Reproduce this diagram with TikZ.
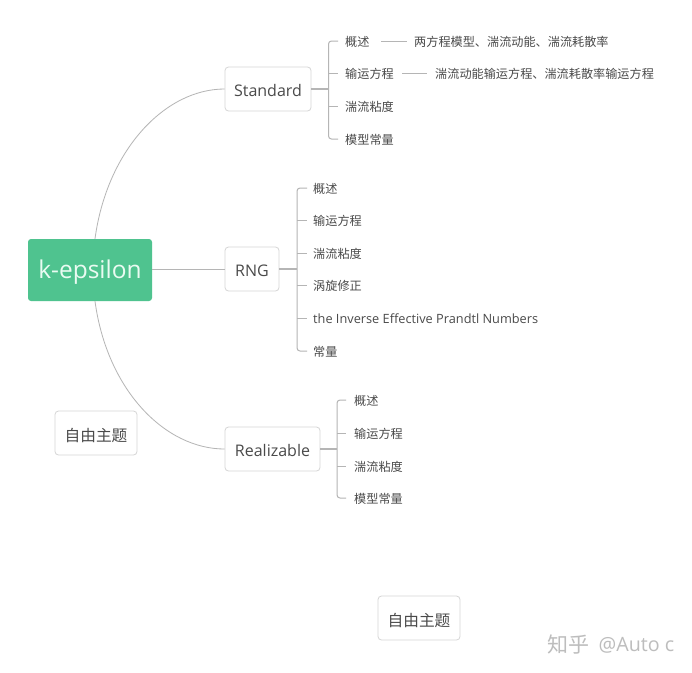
\documentclass[tikz,border=0pt]{standalone}
\usepackage{fontspec}
\setmainfont{Open Sans}
\newfontfamily\cjk{Noto Sans CJK SC}[Scale=1]
\definecolor{rootgreen}{HTML}{4FC38F}
\definecolor{roottext}{HTML}{EAFBF2}
\definecolor{inktext}{HTML}{4A4A4A}
\definecolor{linegray}{HTML}{B5B5B5}
\definecolor{boxgray}{HTML}{D6D6D6}
\definecolor{markgray}{HTML}{BDBDBD}
\tikzset{
  rootbox/.style={fill=rootgreen,rounded corners=3pt,text=roottext,font=\fontsize{24.5}{27}\selectfont,minimum width=124pt,minimum height=62pt,inner sep=0pt,text height=18pt,text depth=2pt},
  topicbox/.style={draw=boxgray,line width=.8pt,fill=white,rounded corners=3.5pt,text=inktext,font=\fontsize{16}{19}\selectfont,minimum height=44pt,inner sep=0pt,text height=14.2pt,text depth=0pt},
  freebox/.style={topicbox,font=\cjk\fontsize{15.7}{19}\selectfont,minimum width=82pt,text height=16pt,text depth=0pt},
  leaf/.style={anchor=west,text=inktext,inner ysep=1pt,inner xsep=0pt,font=\cjk\fontsize{12.15}{14}\selectfont,text height=10.6pt,text depth=.6pt},
  leaftext/.style={leaf,font=\fontsize{12.75}{14}\selectfont},
  thin link/.style={draw=linegray,line width=.8pt},
  stem/.style={draw=linegray,line width=1.2pt},
  bracket/.style={draw=linegray,line width=1pt,rounded corners=3pt},
  stub/.style={draw=linegray,line width=.8pt}
}
\begin{document}
\begin{tikzpicture}[x=1pt,y=-1pt]
\useasboundingbox (0,0) rectangle (692,672);
\fill[white] (0,0) rectangle (692,672);

\node[rootbox] (root) at (90,270) {k-epsilon};
\node[topicbox,minimum width=86pt] (std) at (268,89) {Standard};
\node[topicbox,minimum width=54pt] (rng) at (252,269) {RNG};
\node[topicbox,minimum width=95pt] (rea) at (272.5,449) {Realizable};
\node[freebox] (freea) at (96,433) {自由主题};
\node[freebox] (freeb) at (419,618) {自由主题};

% Standard leaves
\node[leaf] (s1) at (345,41) {概述};
\node[leaf] (s2) at (345,73) {输运方程};
\node[leaf] (s3) at (345,106) {湍流粘度};
\node[leaf] (s4) at (345,139) {模型常量};
\node[leaf] (s1d) at (414,41) {两方程模型、湍流动能、湍流耗散率};
\node[leaf] (s2d) at (435,73) {湍流动能输运方程、湍流耗散率输运方程};

% RNG leaves
\node[leaf] (r1) at (313,188) {概述};
\node[leaf] (r2) at (313,220) {输运方程};
\node[leaf] (r3) at (313,253) {湍流粘度};
\node[leaf] (r4) at (313,285) {涡旋修正};
\node[leaftext] (r5) at (313,318) {the Inverse Effective Prandtl Numbers};
\node[leaf] (r6) at (313,351) {常量};

% Realizable leaves
\node[leaf] (z1) at (354,400) {概述};
\node[leaf] (z2) at (354,433) {输运方程};
\node[leaf] (z3) at (354,466) {湍流粘度};
\node[leaf] (z4) at (354,498) {模型常量};

% root links
\draw[thin link] ([xshift=5pt]root.north) .. controls (107,150) and (165,89) .. (std.west);
\draw[thin link] ([xshift=5pt]root.south) .. controls (107,390) and (165,449) .. (rea.west);
\draw[thin link] (root.east |- rng.west) -- (rng.west);

% Standard bracket
\coordinate (st) at (328.5,89);
\draw[stem] (std.east) -- (st);
\draw[bracket] ([xshift=-7pt]s1.west) -- (st |- s1.west) -- (st |- s4.west) -- ([xshift=-7pt]s4.west);
\foreach \n in {s2,s3}
  \draw[stub] (st |- \n.west) -- ([xshift=-7pt]\n.west);
\draw[thin link] ([xshift=11.5pt]s1.east) -- ([xshift=-7pt]s1d.west);
\draw[thin link] ([xshift=8pt]s2.east) -- ([xshift=-8pt]s2d.west);

% RNG bracket
\coordinate (rt) at (297,269);
\draw[stem] (rng.east) -- (rt);
\draw[bracket] ([xshift=-6pt]r1.west) -- (rt |- r1.west) -- (rt |- r6.west) -- ([xshift=-6pt]r6.west);
\foreach \n in {r2,r3,r4,r5}
  \draw[stub] (rt |- \n.west) -- ([xshift=-6pt]\n.west);

% Realizable bracket
\coordinate (zt) at (337,449);
\draw[stem] (rea.east) -- (zt);
\draw[bracket] ([xshift=-8pt]z1.west) -- (zt |- z1.west) -- (zt |- z4.west) -- ([xshift=-8pt]z4.west);
\foreach \n in {z2,z3}
  \draw[stub] (zt |- \n.west) -- ([xshift=-8pt]\n.west);

% watermark
\node[anchor=west,inner sep=0pt,text=markgray,font=\cjk\fontsize{21}{24}\selectfont] (wma) at (547,645) {知乎};
\node[anchor=west,inner sep=0pt,text=markgray,font=\fontsize{19.7}{24}\selectfont] (wmb) at (598.5,645) {@Auto c};
\end{tikzpicture}
\end{document}
